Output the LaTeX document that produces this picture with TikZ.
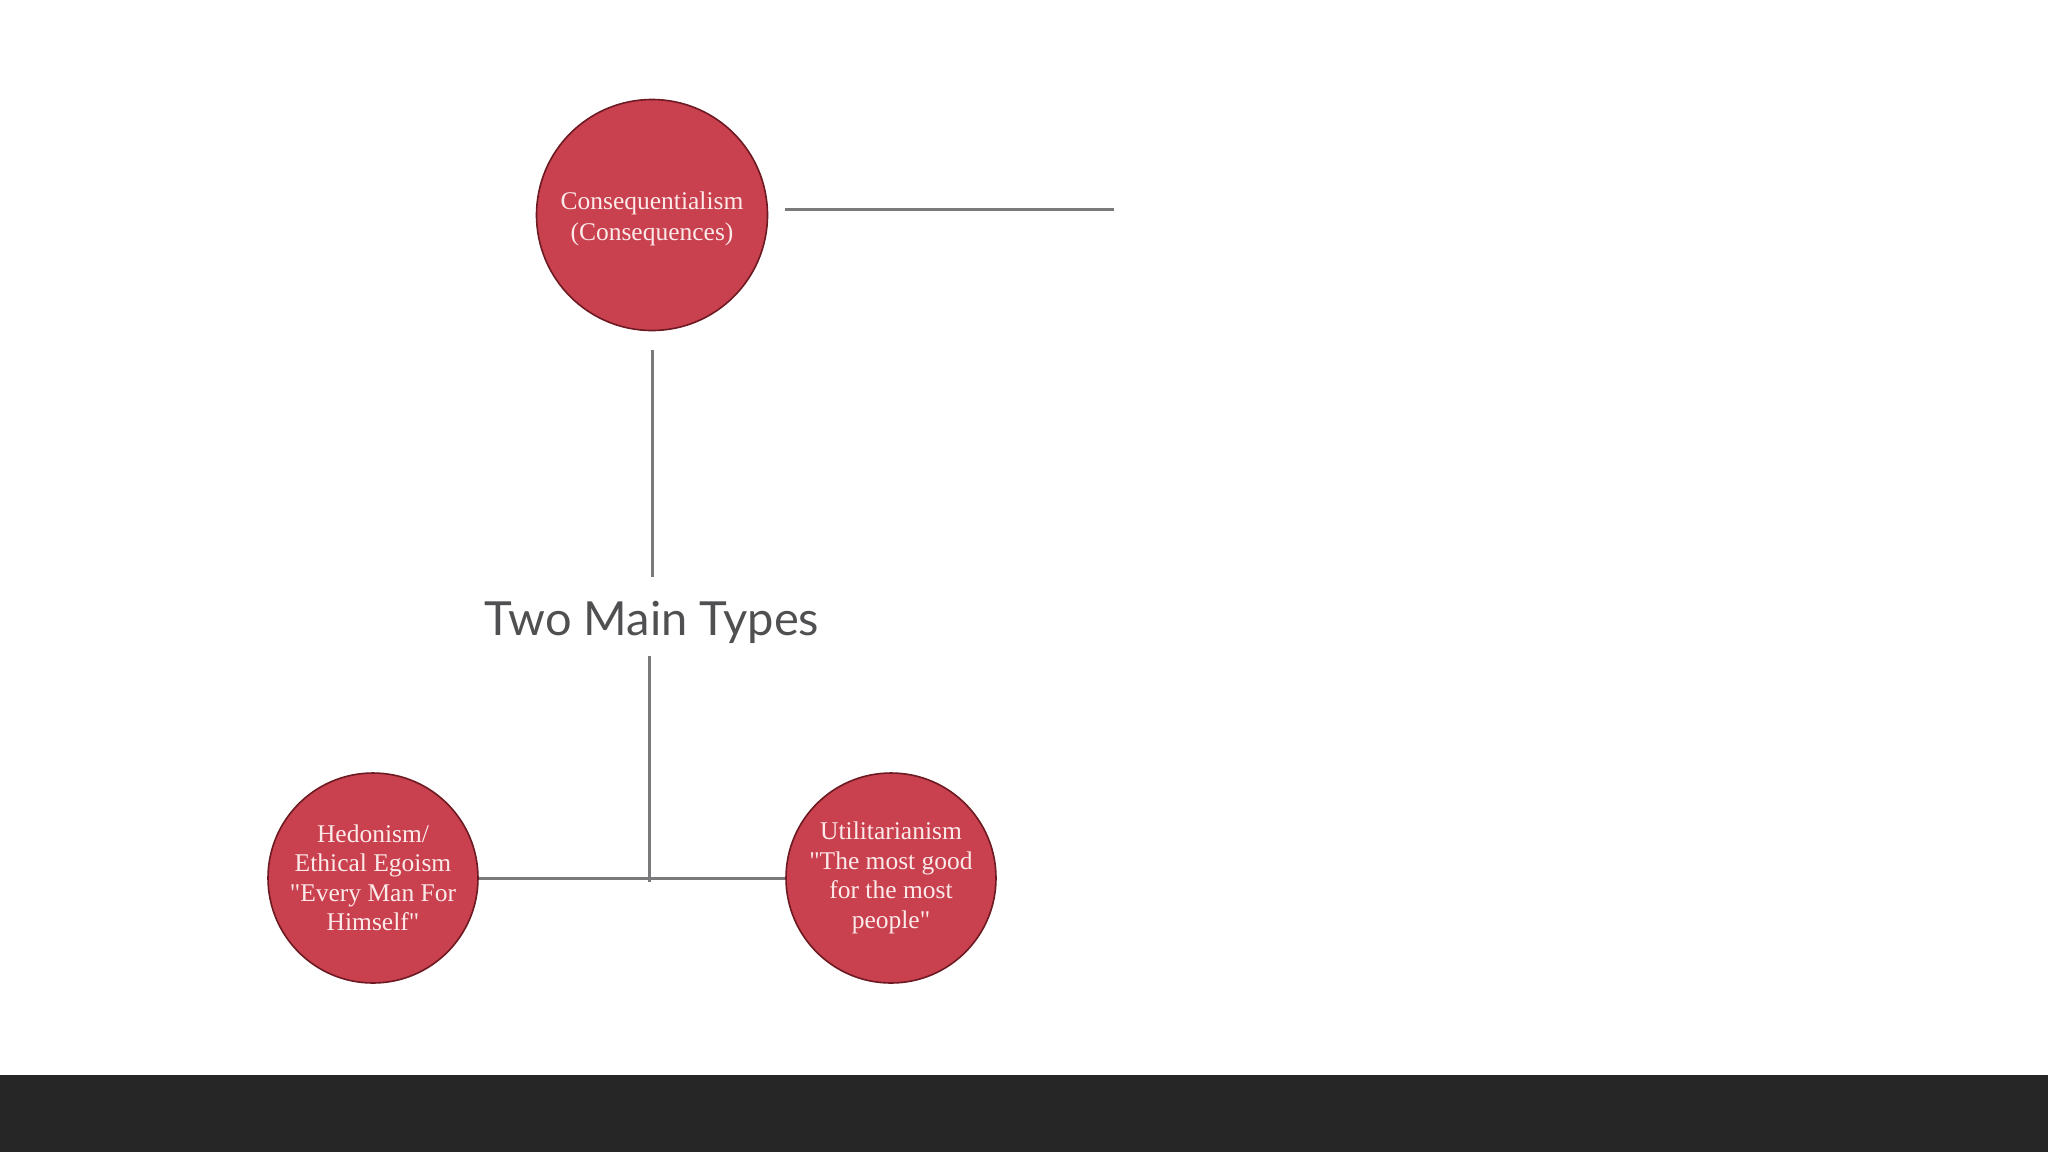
\documentclass[tikz,border=0pt]{standalone}
\usepackage{fontspec}
\setmainfont{Liberation Serif}[Ligatures=TeXOff]
\newfontfamily\latofont{Lato}
\definecolor{circfill}{HTML}{C9404E}
\definecolor{circedge}{HTML}{6E1A22}
\definecolor{circtext}{HTML}{FCE9E9}
\definecolor{linegray}{HTML}{7A7A7C}
\definecolor{titlegray}{HTML}{505052}
\definecolor{barcol}{HTML}{262627}
\begin{document}
\begin{tikzpicture}[x=1pt,y=-1pt,
  bigcirc/.style={circle,fill=circfill,draw=circedge,line width=1.6pt,minimum size=231pt,inner sep=0pt,
    text=circtext,align=center,font=\fontsize{25.5}{31}\selectfont},
  smallcirc/.style={circle,fill=circfill,draw=circedge,line width=1.6pt,minimum size=210pt,inner sep=0pt,
    text=circtext,align=center,font=\fontsize{25.5}{29.5}\selectfont},
  conn/.style={draw=linegray,line width=3pt}]
\useasboundingbox (0,0) rectangle (2048,1152);
\fill[white] (0,0) rectangle (2048,1152);
\fill[barcol] (0,1075) rectangle (2048,1152);

\node[bigcirc] (cons) at (652,215) {\raisebox{-4pt}[\height][\depth]{\begin{tabular}{@{}c@{}}Consequentialism\\(Consequences)\end{tabular}}};
\node[font=\latofont\fontsize{47}{52}\selectfont,text=titlegray] (types) at (652,622) {Two Main Types};
\node[smallcirc] (hed) at (373,878) {Hedonism/\\Ethical Egoism\\"Every Man For\\Himself"};
\node[smallcirc] (util) at (891,878) {Utilitarianism\\"The most good\\for the most\\people"};

\coordinate (rstart) at (785,209);
\coordinate (rend) at (1114,209);
\coordinate (vtop) at (652,350);
\coordinate (vbot) at (652,577);
\coordinate (v2top) at (649,656);
\coordinate (junction) at (649,882);

\draw[conn] (rstart) -- (rend);
\draw[conn] (vtop) -- (vbot);
\draw[conn] (v2top) -- (junction);
\draw[conn] (hed.east) -- (util.west);
\end{tikzpicture}
\end{document}
